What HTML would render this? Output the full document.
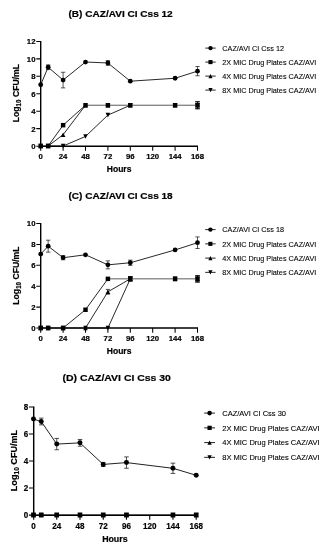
<!DOCTYPE html>
<html><head><meta charset="utf-8"><title>CAZ/AVI CI Css</title>
<style>html,body{margin:0;padding:0;background:#fff}svg{display:block}</style></head>
<body>
<svg width="326" height="550" viewBox="0 0 326 550">
<rect width="326" height="550" fill="#fff"/>
<g stroke="#111" stroke-width="0.9" fill="none">
<path d="M40.7 84.75L48.17 67.23L63.1 80.07L85.5 62.03L107.9 62.98L130.3 81.2L175.1 78.25L197.5 71.13"/>
<path d="M48.17 64.89V69.57M45.97 64.89H50.37M45.97 69.57H50.37M63.1 72.26V87.88M60.9 72.26H65.3M60.9 87.88H65.3M107.9 60.64V65.32M105.7 60.64H110.1M105.7 65.32H110.1M197.5 66.54V75.73M195.3 66.54H199.7M195.3 75.73H199.7" stroke="#111" stroke-width="0.7"/>
<path d="M48.17 146L63.1 125.18L85.5 105.23"/>
<path d="M197.5 101.76V108.7M195.3 101.76H199.7M195.3 108.7H199.7" stroke="#111" stroke-width="0.7"/>
<path d="M48.17 146L63.1 134.72L85.5 105.23"/>
<path d="M197.5 101.76V108.7M195.3 101.76H199.7M195.3 108.7H199.7" stroke="#111" stroke-width="0.7"/>
<path d="M63.1 146L85.5 136.46L107.9 115.12L130.3 105.23"/>
<path d="M197.5 101.76V108.7M195.3 101.76H199.7M195.3 108.7H199.7" stroke="#111" stroke-width="0.7"/>
<path d="M40.7 146H48.17M85.5 105.23H107.9M107.9 105.23H130.3M130.3 105.23H175.1M175.1 105.23H197.5M48.17 146H63.1" stroke="#000" stroke-width="0.65"/>
</g>
<g stroke="#000" stroke-width="1.4" fill="none">
<path d="M40.7 40.96V146.95M40 146.25H198"/>
<path d="M36.3 146.3H40.7M36.3 128.61H40.7M36.3 111.17H40.7M36.3 93.73H40.7M36.3 76.29H40.7M36.3 58.85H40.7M36.3 41.41H40.7M40.7 146V150.7M63.1 146V150.7M85.5 146V150.7M107.9 146V150.7M130.3 146V150.7M152.7 146V150.7M175.1 146V150.7M197.5 146V150.7" stroke-width="1.05"/></g>
<g fill="#000">
<circle cx="40.7" cy="84.75" r="2.4"/>
<circle cx="48.17" cy="67.23" r="2.4"/>
<circle cx="63.1" cy="80.07" r="2.4"/>
<circle cx="85.5" cy="62.03" r="2.4"/>
<circle cx="107.9" cy="62.98" r="2.4"/>
<circle cx="130.3" cy="81.2" r="2.4"/>
<circle cx="175.1" cy="78.25" r="2.4"/>
<circle cx="197.5" cy="71.13" r="2.4"/>
<rect x="38.47" y="143.77" width="4.46" height="4.46"/>
<rect x="45.93" y="143.77" width="4.46" height="4.46"/>
<rect x="60.87" y="122.95" width="4.46" height="4.46"/>
<rect x="83.27" y="103" width="4.46" height="4.46"/>
<rect x="105.67" y="103" width="4.46" height="4.46"/>
<rect x="128.07" y="103" width="4.46" height="4.46"/>
<rect x="172.87" y="103" width="4.46" height="4.46"/>
<rect x="195.27" y="103" width="4.46" height="4.46"/>
<path d="M40.7 143.72L42.98 148.28H38.42Z"/>
<path d="M48.17 143.72L50.45 148.28H45.89Z"/>
<path d="M63.1 132.44L65.38 137H60.82Z"/>
<path d="M85.5 102.95L87.78 107.51H83.22Z"/>
<path d="M107.9 102.95L110.18 107.51H105.62Z"/>
<path d="M130.3 102.95L132.58 107.51H128.02Z"/>
<path d="M175.1 102.95L177.38 107.51H172.82Z"/>
<path d="M197.5 102.95L199.78 107.51H195.22Z"/>
<path d="M40.7 148.28L42.98 143.72H38.42Z"/>
<path d="M48.17 148.28L50.45 143.72H45.89Z"/>
<path d="M63.1 148.28L65.38 143.72H60.82Z"/>
<path d="M85.5 138.74L87.78 134.18H83.22Z"/>
<path d="M107.9 117.4L110.18 112.84H105.62Z"/>
<path d="M130.3 107.51L132.58 102.95H128.02Z"/>
<path d="M175.1 107.51L177.38 102.95H172.82Z"/>
<path d="M197.5 107.51L199.78 102.95H195.22Z"/>
</g>
<g font-family="Liberation Sans, Arial, sans-serif" font-weight="700" font-size="8.1" fill="#000" stroke="#000" stroke-width="0.2">
<g text-anchor="end">
<text transform="translate(35.5 148.97) scale(0.96 1)">0</text>
<text transform="translate(35.5 131.53) scale(0.96 1)">2</text>
<text transform="translate(35.5 114.09) scale(0.96 1)">4</text>
<text transform="translate(35.5 96.65) scale(0.96 1)">6</text>
<text transform="translate(35.5 79.21) scale(0.96 1)">8</text>
<text transform="translate(35.5 61.77) scale(0.96 1)">10</text>
<text transform="translate(35.5 44.33) scale(0.96 1)">12</text>
</g><g text-anchor="middle">
<text transform="translate(40.7 159.4) scale(0.96 1)">0</text>
<text transform="translate(63.1 159.4) scale(0.96 1)">24</text>
<text transform="translate(85.5 159.4) scale(0.96 1)">48</text>
<text transform="translate(107.9 159.4) scale(0.96 1)">72</text>
<text transform="translate(130.3 159.4) scale(0.96 1)">96</text>
<text transform="translate(152.7 159.4) scale(0.96 1)">120</text>
<text transform="translate(175.1 159.4) scale(0.96 1)">144</text>
<text transform="translate(197.5 159.4) scale(0.96 1)">168</text>
</g>
<text text-anchor="middle" font-size="8.5" x="119.1" y="172.2">Hours</text>
<text text-anchor="middle" font-size="9.1" transform="translate(19.35 93.11) rotate(-90) scale(0.95 1)">Log<tspan font-size="6.55" dy="1.46">10</tspan><tspan dy="-1.46"> CFU/mL</tspan></text>
<text text-anchor="middle" font-size="9.6" textLength="104.2" lengthAdjust="spacingAndGlyphs" x="120.6" y="16.6">(B) CAZ/AVI CI Css 12</text>
</g>
<g font-family="Liberation Sans, Arial, sans-serif" font-size="7.7" fill="#000" stroke-width="0.1">
<path d="M205.3 48.1H215.7" stroke="#111" stroke-width="0.9"/>
<circle cx="210.5" cy="48.1" r="2.2"/>
<text stroke="#000" transform="translate(222.3 50.87) scale(0.945 1)">CAZ/AVI CI Css 12</text>
<path d="M205.3 62.1H215.7" stroke="#111" stroke-width="0.9"/>
<rect x="208.45" y="60.05" width="4.09" height="4.09"/>
<text stroke="#000" transform="translate(222.3 64.87) scale(0.945 1)">2X MIC Drug Plates CAZ/AVI</text>
<path d="M205.3 76.1H215.7" stroke="#111" stroke-width="0.9"/>
<path d="M210.5 74.01L212.59 78.19H208.41Z"/>
<text stroke="#000" transform="translate(222.3 78.87) scale(0.945 1)">4X MIC Drug Plates CAZ/AVI</text>
<path d="M205.3 90.1H215.7" stroke="#111" stroke-width="0.9"/>
<path d="M210.5 92.19L212.59 88.01H208.41Z"/>
<text stroke="#000" transform="translate(222.3 92.87) scale(0.945 1)">8X MIC Drug Plates CAZ/AVI</text>
</g>
<g stroke="#111" stroke-width="0.9" fill="none">
<path d="M40.7 254.05L48.17 246.18L63.1 257.72L85.5 254.78L107.9 264.85L130.3 262.75L175.1 249.95L197.5 242.72"/>
<path d="M48.17 240.2V252.16M45.97 240.2H50.37M45.97 252.16H50.37M63.1 255.62V259.81M60.9 255.62H65.3M60.9 259.81H65.3M107.9 260.86V268.84M105.7 260.86H110.1M105.7 268.84H110.1M130.3 260.13V265.37M128.1 260.13H132.5M128.1 265.37H132.5M197.5 236.95V248.49M195.3 236.95H199.7M195.3 248.49H199.7" stroke="#111" stroke-width="0.7"/>
<path d="M63.1 328L85.5 309.75L107.9 278.85"/>
<path d="M130.3 276.76V280.95M128.1 276.76H132.5M128.1 280.95H132.5M197.5 275.71V282M195.3 275.71H199.7M195.3 282H199.7" stroke="#111" stroke-width="0.7"/>
<path d="M85.5 328L107.9 291.81L130.3 278.85"/>
<path d="M107.9 289.4V294.22M105.7 289.4H110.1M105.7 294.22H110.1M130.3 276.76V280.95M128.1 276.76H132.5M128.1 280.95H132.5M197.5 275.71V282M195.3 275.71H199.7M195.3 282H199.7" stroke="#111" stroke-width="0.7"/>
<path d="M107.9 328L130.3 278.85"/>
<path d="M130.3 276.76V280.95M128.1 276.76H132.5M128.1 280.95H132.5M197.5 275.71V282M195.3 275.71H199.7M195.3 282H199.7" stroke="#111" stroke-width="0.7"/>
<path d="M40.7 328H48.17M48.17 328H63.1M107.9 278.85H130.3M130.3 278.85H175.1M175.1 278.85H197.5M63.1 328H85.5M85.5 328H107.9" stroke="#000" stroke-width="0.65"/>
</g>
<g stroke="#000" stroke-width="1.4" fill="none">
<path d="M40.7 223.1V328.65M40 327.95H198"/>
<path d="M36.3 327.95H40.7M36.3 307.11H40.7M36.3 286.22H40.7M36.3 265.33H40.7M36.3 244.44H40.7M36.3 223.55H40.7M40.7 328V332.7M63.1 328V332.7M85.5 328V332.7M107.9 328V332.7M130.3 328V332.7M152.7 328V332.7M175.1 328V332.7M197.5 328V332.7" stroke-width="1.05"/></g>
<g fill="#000">
<circle cx="40.7" cy="254.05" r="2.4"/>
<circle cx="48.17" cy="246.18" r="2.4"/>
<circle cx="63.1" cy="257.72" r="2.4"/>
<circle cx="85.5" cy="254.78" r="2.4"/>
<circle cx="107.9" cy="264.85" r="2.4"/>
<circle cx="130.3" cy="262.75" r="2.4"/>
<circle cx="175.1" cy="249.95" r="2.4"/>
<circle cx="197.5" cy="242.72" r="2.4"/>
<rect x="38.47" y="325.77" width="4.46" height="4.46"/>
<rect x="45.93" y="325.77" width="4.46" height="4.46"/>
<rect x="60.87" y="325.77" width="4.46" height="4.46"/>
<rect x="83.27" y="307.52" width="4.46" height="4.46"/>
<rect x="105.67" y="276.62" width="4.46" height="4.46"/>
<rect x="128.07" y="276.62" width="4.46" height="4.46"/>
<rect x="172.87" y="276.62" width="4.46" height="4.46"/>
<rect x="195.27" y="276.62" width="4.46" height="4.46"/>
<path d="M40.7 325.72L42.98 330.28H38.42Z"/>
<path d="M48.17 325.72L50.45 330.28H45.89Z"/>
<path d="M63.1 325.72L65.38 330.28H60.82Z"/>
<path d="M85.5 325.72L87.78 330.28H83.22Z"/>
<path d="M107.9 289.53L110.18 294.09H105.62Z"/>
<path d="M130.3 276.57L132.58 281.13H128.02Z"/>
<path d="M175.1 276.57L177.38 281.13H172.82Z"/>
<path d="M197.5 276.57L199.78 281.13H195.22Z"/>
<path d="M40.7 330.28L42.98 325.72H38.42Z"/>
<path d="M48.17 330.28L50.45 325.72H45.89Z"/>
<path d="M63.1 330.28L65.38 325.72H60.82Z"/>
<path d="M85.5 330.28L87.78 325.72H83.22Z"/>
<path d="M107.9 330.28L110.18 325.72H105.62Z"/>
<path d="M130.3 281.13L132.58 276.57H128.02Z"/>
<path d="M175.1 281.13L177.38 276.57H172.82Z"/>
<path d="M197.5 281.13L199.78 276.57H195.22Z"/>
</g>
<g font-family="Liberation Sans, Arial, sans-serif" font-weight="700" font-size="8.1" fill="#000" stroke="#000" stroke-width="0.2">
<g text-anchor="end">
<text transform="translate(35.5 330.92) scale(0.96 1)">0</text>
<text transform="translate(35.5 310.03) scale(0.96 1)">2</text>
<text transform="translate(35.5 289.14) scale(0.96 1)">4</text>
<text transform="translate(35.5 268.25) scale(0.96 1)">6</text>
<text transform="translate(35.5 247.36) scale(0.96 1)">8</text>
<text transform="translate(35.5 226.47) scale(0.96 1)">10</text>
</g><g text-anchor="middle">
<text transform="translate(40.7 341.4) scale(0.96 1)">0</text>
<text transform="translate(63.1 341.4) scale(0.96 1)">24</text>
<text transform="translate(85.5 341.4) scale(0.96 1)">48</text>
<text transform="translate(107.9 341.4) scale(0.96 1)">72</text>
<text transform="translate(130.3 341.4) scale(0.96 1)">96</text>
<text transform="translate(152.7 341.4) scale(0.96 1)">120</text>
<text transform="translate(175.1 341.4) scale(0.96 1)">144</text>
<text transform="translate(197.5 341.4) scale(0.96 1)">168</text>
</g>
<text text-anchor="middle" font-size="8.5" x="119.1" y="354.2">Hours</text>
<text text-anchor="middle" font-size="9.1" transform="translate(19.35 275.57) rotate(-90) scale(0.95 1)">Log<tspan font-size="6.55" dy="1.46">10</tspan><tspan dy="-1.46"> CFU/mL</tspan></text>
<text text-anchor="middle" font-size="9.6" textLength="104.2" lengthAdjust="spacingAndGlyphs" x="120.6" y="198.75">(C) CAZ/AVI CI Css 18</text>
</g>
<g font-family="Liberation Sans, Arial, sans-serif" font-size="7.7" fill="#000" stroke-width="0.1">
<path d="M205.2 229.6H215.6" stroke="#111" stroke-width="0.9"/>
<circle cx="210.4" cy="229.6" r="2.2"/>
<text stroke="#000" transform="translate(222.3 232.37) scale(0.945 1)">CAZ/AVI CI Css 18</text>
<path d="M205.2 243.85H215.6" stroke="#111" stroke-width="0.9"/>
<rect x="208.35" y="241.8" width="4.09" height="4.09"/>
<text stroke="#000" transform="translate(222.3 246.62) scale(0.945 1)">2X MIC Drug Plates CAZ/AVI</text>
<path d="M205.2 258.1H215.6" stroke="#111" stroke-width="0.9"/>
<path d="M210.4 256.01L212.49 260.19H208.31Z"/>
<text stroke="#000" transform="translate(222.3 260.87) scale(0.945 1)">4X MIC Drug Plates CAZ/AVI</text>
<path d="M205.2 272.35H215.6" stroke="#111" stroke-width="0.9"/>
<path d="M210.4 274.44L212.49 270.26H208.31Z"/>
<text stroke="#000" transform="translate(222.3 275.12) scale(0.945 1)">8X MIC Drug Plates CAZ/AVI</text>
</g>
<g stroke="#111" stroke-width="0.93" fill="none">
<path d="M33.5 419.08L41.25 421.51L56.74 444.07L79.99 442.86L103.23 464.41L126.48 462.58L172.96 468.3L196.21 475.28"/>
<path d="M41.25 418.13V424.89M38.97 418.13H43.53M38.97 424.89H43.53M56.74 438.4V449.75M54.46 438.4H59.02M54.46 449.75H59.02M79.99 439.48V446.23M77.71 439.48H82.27M77.71 446.23H82.27M103.23 462.38V466.43M100.95 462.38H105.51M100.95 466.43H105.51M126.48 456.91V468.26M124.2 456.91H128.76M124.2 468.26H128.76M172.96 463.16V473.43M170.68 463.16H175.24M170.68 473.43H175.24" stroke="#111" stroke-width="0.73"/>
<path d="M33.5 515H41.25M41.25 515H56.74M56.74 515H79.99M79.99 515H103.23M103.23 515H126.48M126.48 515H172.96M172.96 515H196.21" stroke="#000" stroke-width="0.67"/>
</g>
<g stroke="#000" stroke-width="1.45" fill="none">
<path d="M33.7 406.45V515.88M32.98 515.15H196.71"/>
<path d="M28.94 515.15H33.5M28.94 487.98H33.5M28.94 460.96H33.5M28.94 433.94H33.5M28.94 406.92H33.5M33.7 515V519.87M56.74 515V519.87M79.99 515V519.87M103.23 515V519.87M126.48 515V519.87M149.72 515V519.87M172.96 515V519.87M196.21 515V519.87" stroke-width="1.09"/></g>
<g fill="#000">
<circle cx="33.5" cy="419.08" r="2.49"/>
<circle cx="41.25" cy="421.51" r="2.49"/>
<circle cx="56.74" cy="444.07" r="2.49"/>
<circle cx="79.99" cy="442.86" r="2.49"/>
<circle cx="103.23" cy="464.41" r="2.49"/>
<circle cx="126.48" cy="462.58" r="2.49"/>
<circle cx="172.96" cy="468.3" r="2.49"/>
<circle cx="196.21" cy="475.28" r="2.49"/>
<rect x="31.19" y="512.69" width="4.62" height="4.62"/>
<rect x="38.94" y="512.69" width="4.62" height="4.62"/>
<rect x="54.43" y="512.69" width="4.62" height="4.62"/>
<rect x="77.68" y="512.69" width="4.62" height="4.62"/>
<rect x="100.92" y="512.69" width="4.62" height="4.62"/>
<rect x="124.16" y="512.69" width="4.62" height="4.62"/>
<rect x="170.65" y="512.69" width="4.62" height="4.62"/>
<rect x="193.9" y="512.69" width="4.62" height="4.62"/>
<path d="M33.5 512.64L35.86 517.36H31.14Z"/>
<path d="M41.25 512.64L43.61 517.36H38.89Z"/>
<path d="M56.74 512.64L59.11 517.36H54.38Z"/>
<path d="M79.99 512.64L82.35 517.36H77.63Z"/>
<path d="M103.23 512.64L105.59 517.36H100.87Z"/>
<path d="M126.48 512.64L128.84 517.36H124.11Z"/>
<path d="M172.96 512.64L175.33 517.36H170.6Z"/>
<path d="M196.21 512.64L198.57 517.36H193.85Z"/>
<path d="M33.5 517.36L35.86 512.64H31.14Z"/>
<path d="M41.25 517.36L43.61 512.64H38.89Z"/>
<path d="M56.74 517.36L59.11 512.64H54.38Z"/>
<path d="M79.99 517.36L82.35 512.64H77.63Z"/>
<path d="M103.23 517.36L105.59 512.64H100.87Z"/>
<path d="M126.48 517.36L128.84 512.64H124.11Z"/>
<path d="M172.96 517.36L175.33 512.64H170.6Z"/>
<path d="M196.21 517.36L198.57 512.64H193.85Z"/>
</g>
<g font-family="Liberation Sans, Arial, sans-serif" font-weight="700" font-size="8.39" fill="#000" stroke="#000" stroke-width="0.2">
<g text-anchor="end">
<text transform="translate(28.11 518.02) scale(0.96 1)">0</text>
<text transform="translate(28.11 491) scale(0.96 1)">2</text>
<text transform="translate(28.11 463.98) scale(0.96 1)">4</text>
<text transform="translate(28.11 436.96) scale(0.96 1)">6</text>
<text transform="translate(28.11 409.94) scale(0.96 1)">8</text>
</g><g text-anchor="middle">
<text transform="translate(33.5 528.88) scale(0.96 1)">0</text>
<text transform="translate(56.74 528.88) scale(0.96 1)">24</text>
<text transform="translate(79.99 528.88) scale(0.96 1)">48</text>
<text transform="translate(103.23 528.88) scale(0.96 1)">72</text>
<text transform="translate(126.48 528.88) scale(0.96 1)">96</text>
<text transform="translate(149.72 528.88) scale(0.96 1)">120</text>
<text transform="translate(172.96 528.88) scale(0.96 1)">144</text>
<text transform="translate(196.21 528.88) scale(0.96 1)">168</text>
</g>
<text text-anchor="middle" font-size="8.81" x="114.85" y="542.14">Hours</text>
<text text-anchor="middle" font-size="9.9" transform="translate(17.05 460.51) rotate(-90) scale(0.92 1)">Log<tspan font-size="7.13" dy="1.58">10</tspan><tspan dy="-1.58"> CFU/mL</tspan></text>
<text text-anchor="middle" font-size="9.95" textLength="108.3" lengthAdjust="spacingAndGlyphs" x="116.75" y="380.7">(D) CAZ/AVI CI Css 30</text>
</g>
<g font-family="Liberation Sans, Arial, sans-serif" font-size="7.98" fill="#000" stroke-width="0.1">
<path d="M204.21 413.1H214.99" stroke="#111" stroke-width="0.93"/>
<circle cx="209.6" cy="413.1" r="2.28"/>
<text stroke="#000" transform="translate(222.2 415.97) scale(0.945 1)">CAZ/AVI CI Css 30</text>
<path d="M204.21 427.85H214.99" stroke="#111" stroke-width="0.93"/>
<rect x="207.48" y="425.73" width="4.24" height="4.24"/>
<text stroke="#000" transform="translate(222.2 430.72) scale(0.945 1)">2X MIC Drug Plates CAZ/AVI</text>
<path d="M204.21 442.6H214.99" stroke="#111" stroke-width="0.93"/>
<path d="M209.6 440.43L211.77 444.77H207.43Z"/>
<text stroke="#000" transform="translate(222.2 445.47) scale(0.945 1)">4X MIC Drug Plates CAZ/AVI</text>
<path d="M204.21 457.35H214.99" stroke="#111" stroke-width="0.93"/>
<path d="M209.6 459.52L211.77 455.18H207.43Z"/>
<text stroke="#000" transform="translate(222.2 460.22) scale(0.945 1)">8X MIC Drug Plates CAZ/AVI</text>
</g>
</svg>
</body></html>
